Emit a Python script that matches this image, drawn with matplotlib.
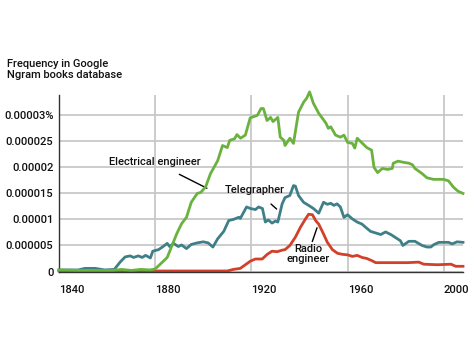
import matplotlib
matplotlib.use("Agg")
import matplotlib.pyplot as plt

plt.rcParams['font.family'] = ['Roboto', 'DejaVu Sans']
plt.rcParams['font.weight'] = 'medium'

# Electrical engineer
elec_years = [1840, 1848, 1855, 1862, 1866, 1870, 1874, 1878, 1880, 1883, 1885, 1887, 1889, 1891,
              1893, 1895, 1897.5, 1899, 1901, 1903, 1906, 1908, 1910, 1911, 1913, 1914, 1915.5,
              1917.5, 1919.5, 1922.5, 1924, 1925, 1926.5, 1928, 1929, 1931, 1932, 1933.5, 1934,
              1936, 1937.5, 1939.6, 1941.7, 1943, 1944.2, 1945.8, 1948, 1951, 1952, 1953, 1955,
              1957, 1958.5, 1960, 1962, 1963, 1964, 1966, 1968, 1970, 1971, 1972.5, 1974.5,
              1976.6, 1978.6, 1979, 1981, 1983, 1985.5, 1987, 1988, 1991, 1993, 1995.7, 2000,
              2002, 2004, 2006, 2008]
elec_vals = [3e-7, 2e-7, 2e-7, 2e-7, 4e-7, 2e-7, 4e-7, 3e-7, 5e-7, 1.8e-6, 2.7e-6, 5.0e-6, 7.3e-6,
             9.2e-6, 1.04e-5, 1.33e-5, 1.5e-5, 1.52e-5, 1.63e-5, 1.88e-5, 2.13e-5, 2.42e-5, 2.38e-5,
             2.52e-5, 2.55e-5, 2.63e-5, 2.56e-5, 2.62e-5, 2.95e-5, 3.0e-5, 3.13e-5, 3.13e-5,
             2.9e-5, 2.96e-5, 2.88e-5, 2.96e-5, 2.58e-5, 2.52e-5, 2.42e-5, 2.56e-5, 2.46e-5,
             3.06e-5, 3.25e-5, 3.33e-5, 3.45e-5, 3.23e-5, 3.04e-5, 2.85e-5, 2.75e-5, 2.78e-5,
             2.62e-5, 2.58e-5, 2.62e-5, 2.48e-5, 2.46e-5, 2.37e-5, 2.56e-5, 2.47e-5, 2.38e-5,
             2.33e-5, 2.0e-5, 1.9e-5, 1.98e-5, 1.96e-5, 1.98e-5, 2.08e-5, 2.12e-5, 2.1e-5,
             2.08e-5, 2.05e-5, 1.98e-5, 1.88e-5, 1.8e-5, 1.77e-5, 1.77e-5, 1.74e-5, 1.62e-5,
             1.54e-5, 1.5e-5]

# Telegrapher
tele_years = [1840, 1848, 1850.8, 1855, 1859, 1863, 1865.4, 1867.5, 1869.6, 1871, 1873, 1874.6,
              1876, 1878, 1879, 1881.4, 1883, 1885, 1886, 1887.6, 1889.6, 1891, 1893, 1895,
              1897.5, 1900, 1902, 1904, 1906, 1908.5, 1910.6, 1912.5, 1914.7, 1915.4, 1918,
              1919.6, 1921.7, 1923, 1924.6, 1925.8, 1927, 1928.6, 1930, 1931, 1932.8, 1934,
              1936, 1937.5, 1938.3, 1939.6, 1941.7, 1943.8, 1945.8, 1948, 1950, 1951.6, 1953,
              1954.3, 1955.6, 1957, 1958.5, 1960, 1962, 1964, 1966, 1968, 1969.6, 1971.7, 1973.8,
              1975.8, 1978, 1980, 1982, 1983, 1985.5, 1988, 1991, 1993, 1994.6, 1996, 1998, 2000,
              2002, 2003.5, 2005.5, 2008]
tele_vals = [3e-7, 3e-7, 6e-7, 6e-7, 3e-7, 4e-7, 1.8e-6, 2.8e-6, 3.0e-6, 2.7e-6, 3.0e-6, 2.7e-6,
             3.1e-6, 2.6e-6, 3.9e-6, 4.2e-6, 4.7e-6, 5.4e-6, 4.8e-6, 5.4e-6, 4.8e-6, 5.1e-6,
             4.4e-6, 5.2e-6, 5.5e-6, 5.7e-6, 5.5e-6, 4.7e-6, 6.3e-6, 7.7e-6, 9.8e-6, 1.0e-5,
             1.04e-5, 1.02e-5, 1.24e-5, 1.21e-5, 1.19e-5, 1.24e-5, 1.21e-5, 9.5e-6, 9.9e-6,
             9.3e-6, 9.7e-6, 9.5e-6, 1.3e-5, 1.42e-5, 1.46e-5, 1.65e-5, 1.64e-5, 1.46e-5,
             1.33e-5, 1.27e-5, 1.21e-5, 1.12e-5, 1.33e-5, 1.29e-5, 1.31e-5, 1.27e-5, 1.3e-5,
             1.24e-5, 1.04e-5, 1.09e-5, 1.01e-5, 9.5e-6, 9.1e-6, 8.3e-6, 7.7e-6, 7.4e-6, 7.1e-6,
             7.6e-6, 7.1e-6, 6.5e-6, 5.9e-6, 5.0e-6, 5.8e-6, 5.8e-6, 5.0e-6, 4.7e-6, 4.7e-6,
             5.2e-6, 5.6e-6, 5.6e-6, 5.6e-6, 5.3e-6, 5.7e-6, 5.6e-6]

# Radio engineer
radio_years = [1840, 1880, 1910, 1912.5, 1915.4, 1917.5, 1919.6, 1921.7, 1924.5, 1926.6, 1928.6,
               1930.7, 1932.8, 1934, 1936, 1938.3, 1940.4, 1942.5, 1943.8, 1945.4, 1946.7, 1948,
               1949.6, 1951.6, 1953.7, 1955.8, 1957.8, 1960, 1962, 1964, 1966, 1968, 1970, 1971.7,
               1978, 1985, 1989.6, 1991.7, 1997.4, 2003, 2005, 2008]
radio_vals = [1e-7, 1e-7, 1e-7, 4e-7, 6e-7, 1.3e-6, 2.0e-6, 2.4e-6, 2.4e-6, 3.3e-6, 3.9e-6,
              3.8e-6, 4.1e-6, 4.2e-6, 5.0e-6, 6.6e-6, 8.5e-6, 1.01e-5, 1.1e-5, 1.09e-5, 9.8e-6,
              9.1e-6, 7.6e-6, 5.6e-6, 4.2e-6, 3.5e-6, 3.3e-6, 3.2e-6, 2.9e-6, 3.1e-6, 2.7e-6,
              2.5e-6, 2.1e-6, 1.7e-6, 1.7e-6, 1.7e-6, 1.8e-6, 1.4e-6, 1.3e-6, 1.4e-6, 1.0e-6, 1.0e-6]

y_ticks = [0, 5e-6, 1e-5, 1.5e-5, 2e-5, 2.5e-5, 3e-5]
y_labels = ['0', '0.000005', '0.00001', '0.000015', '0.00002', '0.000025', '0.00003%']
x_ticks = [1840, 1880, 1920, 1960, 2000]

GREEN = '#6ab23e'
TEAL = '#3f7f87'
RED = '#d2402a'
TXT = '#111111'
GRID = '#c4c4c4'
FS = 8.0

fig = plt.figure(figsize=(4.74, 3.55), dpi=100)
ax = fig.add_axes([59/474, 83.5/355, 404/474, 177/355])
ax.set_xlim(1840, 2008)
ax.set_ylim(0, 3.4e-5)

ax.set_yticks(y_ticks)
ax.set_yticklabels(y_labels)
ax.set_xticks(x_ticks)
ax.set_xticklabels([str(x) for x in x_ticks])
ax.grid(True, color=GRID, lw=1.2, zorder=0)
ax.set_axisbelow(True)

ax.plot(radio_years, radio_vals, color=RED, lw=2.0, zorder=3, clip_on=False, solid_joinstyle='round')
ax.plot(tele_years, tele_vals, color=TEAL, lw=2.0, zorder=4, clip_on=False, solid_joinstyle='round')
ax.plot(elec_years, elec_vals, color=GREEN, lw=2.0, zorder=5, clip_on=False, solid_joinstyle='round')

for s in ['top', 'right']:
    ax.spines[s].set_visible(False)
for s in ['left', 'bottom']:
    ax.spines[s].set_color('#333333')
    ax.spines[s].set_linewidth(1.0)
ax.spines['bottom'].set_zorder(6)

ax.tick_params(length=0, labelsize=FS, colors=TXT)
ax.tick_params(axis='y', pad=4)
ax.tick_params(axis='x', pad=10)
for lab in ax.get_xticklabels():
    lab.set_horizontalalignment('left')

fig.text(7/474, 1 - 69.5/355, 'Frequency in Google\nNgram books database', ha='left', va='center',
         fontsize=FS, color=TXT, linespacing=1.2)

ax.annotate('Electrical engineer', xy=(1901.5, 1.6e-5), xytext=(1880, 2.1e-5),
            ha='center', va='center', fontsize=FS, color=TXT,
            arrowprops=dict(arrowstyle='-', color='black', lw=1.0, shrinkA=7, shrinkB=0))
ax.annotate('Telegrapher', xy=(1930.5, 1.2e-5), xytext=(1921.5, 1.57e-5),
            ha='center', va='center', fontsize=FS, color=TXT,
            arrowprops=dict(arrowstyle='-', color='black', lw=1.0, shrinkA=7, shrinkB=0))
ax.annotate('Radio\nengineer', xy=(1947.3, 8.4e-6), xytext=(1943.5, 3.3e-6),
            ha='center', va='center', fontsize=FS, color=TXT, linespacing=1.0,
            arrowprops=dict(arrowstyle='-', color='black', lw=1.0, shrinkA=11, shrinkB=0))

fig.savefig('out.png', dpi=100)
